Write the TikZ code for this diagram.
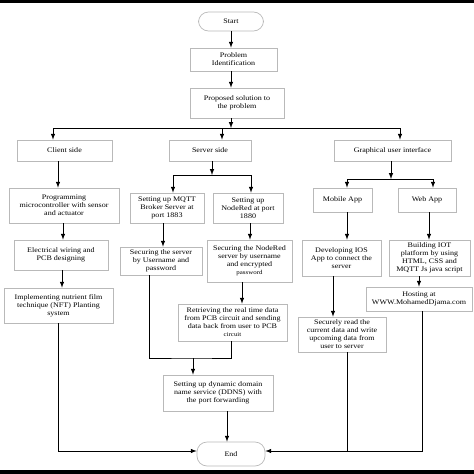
\documentclass[tikz,border=0pt]{standalone}
\usepackage{fontspec}
\setmainfont[FakeStretch=1.15]{Liberation Serif}
\begin{document}
\begin{tikzpicture}[x=1pt,y=-1pt,>=latex]
          \tikzstyle{every node}=[font=\fontsize{7}{8}\selectfont,align=center,inner sep=0pt]
          \tikzstyle{box}=[draw=gray!55,line width=.7pt]
          \tikzstyle{term}=[box,rounded corners=10pt]
          \tikzstyle{flow}=[line width=1pt]
          \useasboundingbox (0,0) rectangle (474,474);
          \fill (0,0) rectangle (474,3);
          \fill (0,470) rectangle (474,474);
          % 
          \node [term,minimum width=65,minimum height=19]  (start) at (231,21.5)   {Start};
          \node [box,minimum width=87,minimum height=23]   (prob)  at (233.5,59.5) {Problem\\Identification};
          \node [box,minimum width=94,minimum height=30]   (sol)   at (237,103)    {Proposed solution to\\the problem};
          % 
          \node [box,minimum width=95,minimum height=21]   (cli)   at (64.5,150.5) {Client side};
          \node [box,minimum width=82,minimum height=21]   (srv)   at (210,150.5)  {Server side};
          \node [box,minimum width=117,minimum height=21]  (gui)   at (392.5,150.5) {Graphical user interface};
          % 
          \node [box,minimum width=110,minimum height=35]  (prog)  at (64,205.5)   {Programming\\microcontroller with sensor\\and actuator};
          \node [box,minimum width=94,minimum height=30]   (wir)   at (61,255)     {Electrical wiring and\\PCB designing};
          \node [box,minimum width=109,minimum height=35]  (nft)   at (58.5,305.5) {Implementing nutrient film\\technique (NFT) Planting\\system};
          % 
          \node [box,minimum width=74,minimum height=30]   (mqtt)  at (167,208)    {Setting up MQTT\\Broker Server at\\port 1883};
          \node [box,minimum width=70,minimum height=30]   (nr)    at (248,208)    {Setting up\\NodeRed at port\\1880};
          \node [box,minimum width=82,minimum height=28]   (secm)  at (161,261)    {Securing the server\\by Username and\\password};
          \node [box,minimum width=85,minimum height=42]   (secnr) at (249.5,261)  {Securing the NodeRed\\server by username\\and encrypted\\{\fontsize{6}{8}\selectfont password}};
          \node [box,minimum width=109,minimum height=37]  (retr)  at (232.5,322.5) {Retrieving the real time data\\from PCB circuit and sending\\data back from user to PCB\\{\fontsize{6}{8}\selectfont circuit}};
          \node [box,minimum width=110,minimum height=36]  (ddns)  at (218,393)    {Setting up dynamic domain\\name service (DDNS) with\\the port forwarding};
          % 
          \node [box,minimum width=59,minimum height=24]   (mob)   at (342.5,200)  {Mobile App};
          \node [box,minimum width=58,minimum height=24]   (web)   at (427,200)    {Web App};
          \node [box,minimum width=79,minimum height=36]   (ios)   at (341.5,258)  {Developing IOS\\App to connect the\\server};
          \node [box,minimum width=81,minimum height=36]   (bld)   at (429.5,258)  {Building IOT\\platform by using\\HTML, CSS and\\MQTT Js java script};
          \node [box,minimum width=106,minimum height=24]  (host)  at (419,299)    {Hosting at\\WWW.MohamedDjama.com};
          \node [box,minimum width=88,minimum height=35]   (sec)   at (342,334.5)  {Securely read the\\current data and write\\upcoming data from\\user to server};
          % 
          \node [term,minimum width=68,minimum height=24]  (end)   at (231,454)    {End};
          % 
          \coordinate (j1) at (231,128);
          \coordinate (j2) at (212,175);
          \coordinate (j3) at (391,179);
          \coordinate (j4) at (193,358);
          \coordinate (j5) at (347,451);
          % 
          \path[->,flow]
          (start)                      edge (start |- prob.north)
          (start |- prob.south)        edge (start |- sol.north)
          ([xshift=-6.5pt]cli.south)   edge ([xshift=-6.5pt]cli.south |- prog.north)
          ([xshift=-1pt]prog.south)    edge ([xshift=-1pt]prog.south |- wir.north)
          ([xshift=1pt]wir.south)      edge ([xshift=1pt]wir.south |- nft.north)
          ([xshift=-4pt]mqtt.south)    edge ([xshift=-4pt]mqtt.south |- secm.north)
          ([xshift=2pt]nr.south)       edge ([xshift=2pt]nr.south |- secnr.north)
          ([xshift=-7.5pt]secnr.south) edge ([xshift=-7.5pt]secnr.south |- retr.north)
          ([xshift=4.5pt]mob.south)    edge ([xshift=4.5pt]mob.south |- ios.north)
          ([xshift=2pt]web.south)      edge ([xshift=2pt]web.south |- bld.north)
          ([xshift=-10.5pt]bld.south)  edge ([xshift=-10.5pt]bld.south |- host.north)
          ([xshift=-8.5pt]ios.south)   edge ([xshift=-8.5pt]ios.south |- sec.north)
          ([xshift=9pt]ddns.south)     edge ([xshift=9pt]ddns.south |- end.north)
          (j4)                         edge (j4 |- ddns.north);
          % 
          \draw[->,flow] (start |- sol.south) -- (j1);
          \draw[->,flow] (j1) -| ([xshift=-11.5pt]cli.north);
          \draw[->,flow] (j1) -| ([xshift=12pt]srv.north);
          \draw[->,flow] (j1) -| ([xshift=7.5pt]gui.north);
          \draw[->,flow] ([xshift=2pt]srv.south) -- (j2);
          \draw[->,flow] (j2) -| ([xshift=6pt]mqtt.north);
          \draw[->,flow] (j2) -| ([xshift=3pt]nr.north);
          \draw[->,flow] ([xshift=-1.5pt]gui.south) -- (j3);
          \draw[->,flow] (j3) -| ([xshift=4.5pt]mob.north);
          \draw[->,flow] (j3) -| ([xshift=6pt]web.north);
          % 
          \draw[flow] ([xshift=-12pt]secm.south) |- (j4) -| ([xshift=-1.5pt]retr.south);
          \draw[->,flow] ([xshift=-.5pt]nft.south) |- ([yshift=3pt]end.west);
          \draw[->,flow] ([xshift=3pt]host.south) |- ([yshift=3pt]end.east);
          \draw[flow] ([xshift=5pt]sec.south) -- (j5);
        \end{tikzpicture}
\end{document}
